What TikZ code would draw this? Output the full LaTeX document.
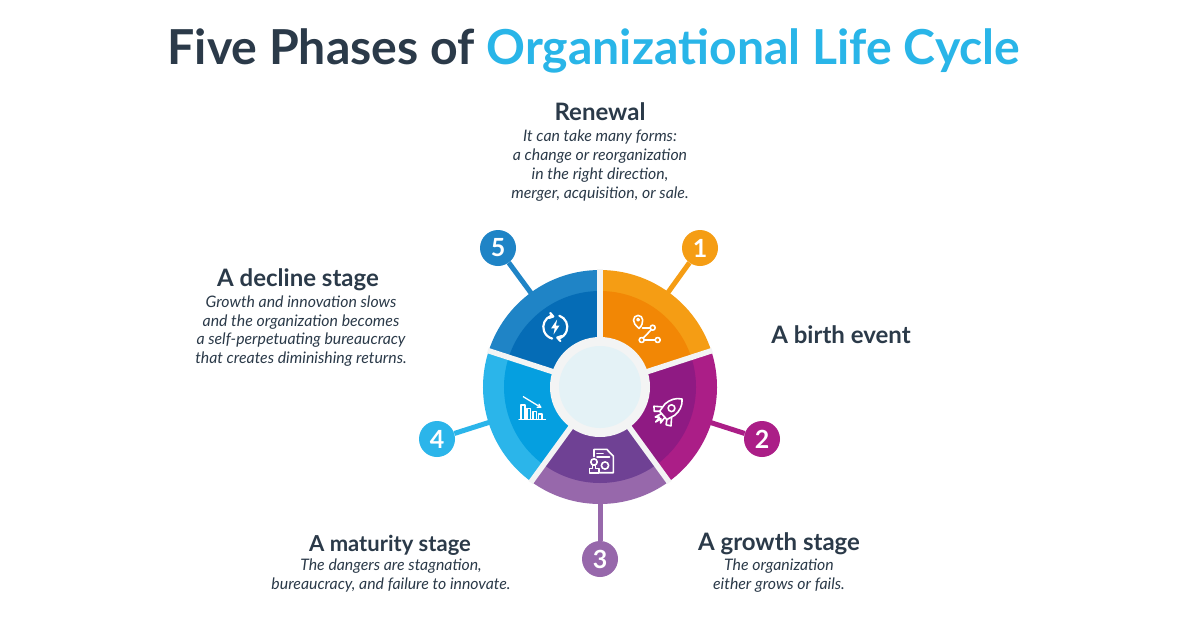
\documentclass[tikz,border=0pt]{standalone}
\usepackage{fontspec}
\setmainfont{Lato}
\definecolor{ink}{HTML}{2B3A49}
\definecolor{sky}{HTML}{29B5E8}
\definecolor{gapc}{HTML}{F3F4F4}
\definecolor{paleC}{HTML}{E4F2F6}
\definecolor{oA}{HTML}{F59D14}\definecolor{iA}{HTML}{F28705}
\definecolor{oB}{HTML}{AB1E87}\definecolor{iB}{HTML}{8F1A83}
\definecolor{oC}{HTML}{9768AB}\definecolor{iC}{HTML}{6F4194}
\definecolor{oD}{HTML}{2BB5EA}\definecolor{iD}{HTML}{059FE0}
\definecolor{oE}{HTML}{1F84C6}\definecolor{iE}{HTML}{056CB6}
\tikzset{
 title/.style={font=\fontsize{48.2}{52}\selectfont\bfseries,text=ink,anchor=base,inner sep=0},
 head/.style={font=\fontsize{24}{26}\selectfont\bfseries,text=ink,anchor=base,inner sep=0},
 headsm/.style={font=\fontsize{22}{26}\selectfont\bfseries,text=ink,anchor=base,inner sep=0},
 body/.style={font=\fontsize{15.85}{18.8}\selectfont\itshape,text=ink,align=center,anchor=north,inner sep=0},
 badge/.style={circle,minimum size=36,inner sep=0,text=white,font=\fontsize{25}{25}\selectfont\bfseries},
 spoke/.style={line width=5},
 icon/.style={draw=white,line width=1.6,line cap=round,line join=round},
}
\begin{document}
\begin{tikzpicture}[x=1pt,y=-1pt]
\useasboundingbox (0,0) rectangle (1200,627);
\fill[white] (0,0) rectangle (1200,627);
\node[title] (ttl) at (594,64) {Five Phases of \textcolor{sky}{Organizational Life Cycle}};
\coordinate (c) at (600,387);
% badges and spokes
\node[badge,fill=oA] (n1) at (700,248) {1};
\node[badge,fill=oB] (n2) at (762,439) {2};
\node[badge,fill=oC] (n3) at (600,559) {3};
\node[badge,fill=oD] (n4) at (437,439) {4};
\node[badge,fill=oE] (n5) at (498,248) {5};
\draw[spoke,oA] (n1) -- (c);
\draw[spoke,oB] (n2) -- (c);
\draw[spoke,oC] (n3) -- (c);
\draw[spoke,oD] (n4) -- (c);
\draw[spoke,oE] (n5) -- (c);
% wheel
\begin{scope}[shift={(c)},x=1pt,y=1pt]
 \foreach \s/\o/\i in {18/A/A,-54/B/B,-126/C/C,-198/D/D,90/E/E}{
  \pgfmathsetmacro{\e}{\s+72}
  \fill[o\o] (0,0) -- (\s:117) arc[start angle=\s,end angle=\e,radius=117] -- cycle;
  \fill[i\i] (0,0) -- (\s:96) arc[start angle=\s,end angle=\e,radius=96] -- cycle;
 }
 \foreach \a in {90,18,-54,-126,162}
  \draw[gapc,line width=5.5] (0,0) -- (\a:118);
 \fill[gapc] (0,0) circle[radius=50];
 \fill[paleC] (0,0) circle[radius=41];
\end{scope}
% icon 1: route
\begin{scope}[icon]
 \draw (639,328.5) .. controls (635,325) and (633.5,322.5) .. (633.5,320) arc[start angle=180,end angle=360,radius=4.6] .. controls (642.7,323) and (642,325.5) .. (639,328.5);
 \draw (638.1,319.7) circle[radius=1.2];
 \draw (642.5,327.7) -- (650.2,327.7);
 \draw (652.7,327.7) circle[radius=2.5];
 \draw (651.2,329.8) -- (643.3,338);
 \draw (641.7,340) circle[radius=2.5];
 \draw (644.2,340) -- (655.2,340);
 \draw (657.7,340) circle[radius=2.5];
\end{scope}
% icon 2: rocket
\begin{scope}[icon,shift={(670,409.5)},rotate=41]
 \draw (16,0) .. controls (12,-5.5) and (6,-7.5) .. (0,-7.5) -- (-9,-5.5) -- (-9,5.5) -- (0,7.5) .. controls (6,7.5) and (12,5.5) .. (16,0);
 \draw (2,0) circle[radius=3.4];
 \draw (-4,-7) -- (-10,-13) -- (-13,-9) -- (-9,-5.5);
 \draw (-4,7) -- (-10,13) -- (-13,9) -- (-9,5.5);
 \draw (-9,-2.5) -- (-16,-4) -- (-13,-1) -- (-19,0) -- (-13,1) -- (-16,4) -- (-9,2.5);
\end{scope}
% icon 3: document and stamp
\begin{scope}[icon]
 \draw (594,456.5) -- (594,449.3) -- (606.7,449.3) -- (613.3,456) -- (613.3,472.7) -- (600,472.7);
 \draw (597,453.5) -- (603,453.5);
 \draw (597,457) -- (609.5,457);
 \draw (594,462) circle[radius=3.2];
 \draw (592.6,465) -- (592.6,468.5) -- (589.5,468.5) -- (589.5,472.7) -- (599,472.7) -- (599,468.5) -- (595.4,468.5) -- (595.4,465);
 \draw (605,465.5) circle[radius=3.6];
\end{scope}
% icon 4: falling chart
\begin{scope}[icon,line width=1.3]
 \draw (523.3,396.7) -- (540.7,407.3);
 \draw (537.2,407.3) -- (540.7,407.3) -- (539,404.2);
 \draw (519,419.3) -- (545.5,419.3);
 \draw (521,419.3) -- (521,405) -- (525,405) -- (525,419.3);
 \draw (527,419.3) -- (527,408.3) -- (530.5,408.3) -- (530.5,419.3);
 \draw (533,419.3) -- (533,411.7) -- (536.5,411.7) -- (536.5,419.3);
 \draw (538.8,419.3) -- (538.8,414) -- (542,414) -- (542,419.3);
\end{scope}
% icon 5: renew with bolt
\begin{scope}[icon,shift={(555.3,327)},line width=2.2]
 \begin{scope}[y=1pt]
  \draw (110:12) arc[start angle=110,end angle=255,radius=12];
  \draw (70:12) arc[start angle=70,end angle=-75,radius=12];
 \end{scope}
 \fill[white,draw=none] (1.8,-7.5) -- (-4.2,1.4) -- (-0.6,1.4) -- (-1.8,7.5) -- (4.2,-1.4) -- (0.6,-1.4) -- cycle;
 \draw (-5,-14) -- (-2,-10.5) -- (-6.5,-9);
 \draw (5,14) -- (2,10.5) -- (6.5,9);
\end{scope}
% texts
\node[head] (h1) at (600,120) {Renewal};
\node[body] (b1) at (600,130) {It can take many forms:\\a change or reorganization\\in the right direction,\\merger, acquisition, or sale.};
\node[head] (h5) at (298,286) {A decline stage};
\node[body] (b5) at (301,295.5) {Growth and innovation slows\\and the organization becomes\\a self-perpetuating bureaucracy\\that creates diminishing returns.};
\node[head] (h2) at (841,343) {A birth event};
\node[head] (h3) at (779,550) {A growth stage};
\node[body] (b3) at (779,559) {The organization\\either grows or fails.};
\node[headsm] (h4) at (390,551) {A maturity stage};
\node[body] (b4) at (391,559) {The dangers are stagnation,\\bureaucracy, and failure to innovate.};
\end{tikzpicture}
\end{document}
